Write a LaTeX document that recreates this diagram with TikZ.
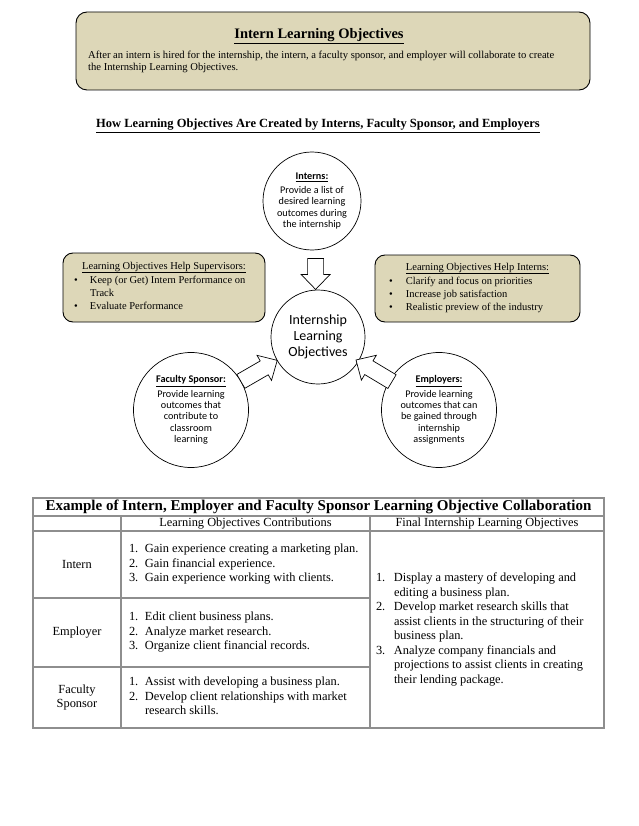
\documentclass[tikz,border=0pt]{standalone}
\usepackage{fontspec}
\setmainfont{Liberation Serif}
\newfontfamily\calibri{Carlito}
\usepackage{xcolor}
\usetikzlibrary{positioning,calc}
\definecolor{tanfill}{HTML}{DDD7B8}
\definecolor{gridgray}{HTML}{8E8E8E}

% outline of a hollow block arrow of length #1, pointing east
\newcommand{\arrowoutline}[1]{({-#1/2},-8) -- ({#1/2-15},-8) -- ({#1/2-15},-14.5) -- ({#1/2},0) -- ({#1/2-15},14.5) -- ({#1/2-15},8) -- ({-#1/2},8) -- cycle}

\tikzset{
  tanbox/.style={draw, fill=tanfill, rounded corners=11pt, line width=0.9pt},
  bubble/.style={draw, circle, line width=0.7pt, inner sep=0pt, align=center, font=\calibri\fontsize{10.2}{11.3}\selectfont},
  blockarrow/.style={draw, fill=white, line width=0.7pt, line join=miter},
  cell/.style={draw=gridgray, line width=1.1pt, inner sep=0pt, outer sep=0pt, anchor=north west, align=center, font=\fontsize{12.4}{14.5}\selectfont},
}

\begin{document}
\begin{tikzpicture}[x=1pt, y=-1pt]
\fill[white] (0,0) rectangle (638,826);
\useasboundingbox (0,0) rectangle (638,826);

% intro box
\node (intro) [tanbox, minimum width=514pt, minimum height=78pt] at (333,51) {};
\node (introtitle) at (319,36) {\fontsize{14.5}{17}\selectfont\bfseries\underline{Intern Learning Objectives}};
\node (introtext) [anchor=north west, align=left, inner sep=0pt, font=\fontsize{10.6}{12.3}\selectfont] at (88,51)
  {After an intern is hired for the internship, the intern, a faculty sponsor, and employer will collaborate to create\\the Internship Learning Objectives.};

\node (howtitle) at (318,126) {\fontsize{12.5}{15}\selectfont\bfseries\underline{How Learning Objectives Are Created by Interns, Faculty Sponsor, and Employers}};

% circles
\node (core) [bubble, minimum size=94pt, font=\calibri\fontsize{14}{15.7}\selectfont] at (318,337) {Internship\\Learning\\Objectives};
\node (interns) [bubble, minimum size=98pt] at (312,201)
  {\textbf{\underline{Interns:}}\\[3pt]Provide a list of\\desired learning\\outcomes during\\the internship};
\node (faculty) [bubble, minimum size=115pt] at (191,410)
  {\textbf{\underline{Faculty Sponsor:}}\\[3pt]Provide learning\\outcomes that\\contribute to\\classroom\\learning};
\node (employers) [bubble, minimum size=115pt] at (439,410)
  {\textbf{\underline{Employers:}}\\[3pt]Provide learning\\outcomes that can\\be gained through\\internship\\assignments};

% block arrows
\draw[blockarrow, shift={($(interns.south)!0.6!(core.north)$)}, rotate=-90] \arrowoutline{31};
\draw[blockarrow, shift={($(faculty.30)!0.5!(core.210)$)}, rotate=30] \arrowoutline{42};
\draw[blockarrow, shift={($(employers.149)!0.5!(core.329)$)}, rotate=149] \arrowoutline{42};

% side boxes
\node (supbox) [tanbox, rounded corners=10pt, minimum width=202pt, minimum height=69pt, align=center, font=\fontsize{10.5}{13}\selectfont] at (164,287.5)
  {\underline{Learning Objectives Help Supervisors:}\\
   \begin{tabular}{@{}p{16pt}@{}p{164pt}@{}}
   \textbullet & Keep (or Get) Intern Performance on\newline Track\\
   \textbullet & Evaluate Performance
   \end{tabular}};
\node (intbox) [tanbox, rounded corners=10pt, minimum width=205pt, minimum height=67pt, align=center, font=\fontsize{10.5}{13}\selectfont] at (477.5,288.5)
  {\underline{Learning Objectives Help Interns:}\\
   \begin{tabular}{@{}p{17pt}@{}p{160pt}@{}}
   \textbullet & Clarify and focus on priorities\\
   \textbullet & Increase job satisfaction\\
   \textbullet & Realistic preview of the industry
   \end{tabular}};

% table
\node (tabhead) [cell, minimum width=571pt, minimum height=18pt, font=\bfseries\fontsize{15}{17}\selectfont] at (33,498)
  {Example of Intern, Employer and Faculty Sponsor Learning Objective Collaboration};
\node (sub0) [cell, minimum width=88pt, minimum height=15pt] at (tabhead.south west) {};
\node (sub1) [cell, minimum width=249pt, minimum height=15pt] at (sub0.north east) {Learning Objectives Contributions};
\node (sub2) [cell, minimum width=234pt, minimum height=15pt] at (sub1.north east) {Final Internship Learning Objectives};

\node (rowA0) [cell, minimum width=88pt, minimum height=67pt] at (sub0.south west) {Intern};
\node (rowA1) [cell, minimum width=249pt, minimum height=67pt] at (rowA0.north east)
  {\begin{tabular}{@{}p{16pt}@{}p{217pt}@{}}
   1. & Gain experience creating a marketing plan.\\
   2. & Gain financial experience.\\
   3. & Gain experience working with clients.
   \end{tabular}};
\node (rowB0) [cell, minimum width=88pt, minimum height=69pt] at (rowA0.south west) {Employer};
\node (rowB1) [cell, minimum width=249pt, minimum height=69pt] at (rowB0.north east)
  {\begin{tabular}{@{}p{16pt}@{}p{217pt}@{}}
   1. & Edit client business plans.\\
   2. & Analyze market research.\\
   3. & Organize client financial records.
   \end{tabular}};
\node (rowC0) [cell, minimum width=88pt, minimum height=61pt] at (rowB0.south west) {Faculty\\Sponsor};
\node (rowC1) [cell, minimum width=249pt, minimum height=61pt] at (rowC0.north east)
  {\begin{tabular}{@{}p{16pt}@{}p{217pt}@{}}
   1. & Assist with developing a business plan.\\
   2. & Develop client relationships with market\newline research skills.
   \end{tabular}};
\node (final) [cell, minimum width=234pt, minimum height=197pt] at (sub2.south west)
  {\begin{tabular}{@{}p{18pt}@{}p{204pt}@{}}
   1. & Display a mastery of developing and\newline editing a business plan.\\
   2. & Develop market research skills that\newline assist clients in the structuring of their\newline business plan.\\
   3. & Analyze company financials and\newline projections to assist clients in creating\newline their lending package.
   \end{tabular}};
\end{tikzpicture}
\end{document}
